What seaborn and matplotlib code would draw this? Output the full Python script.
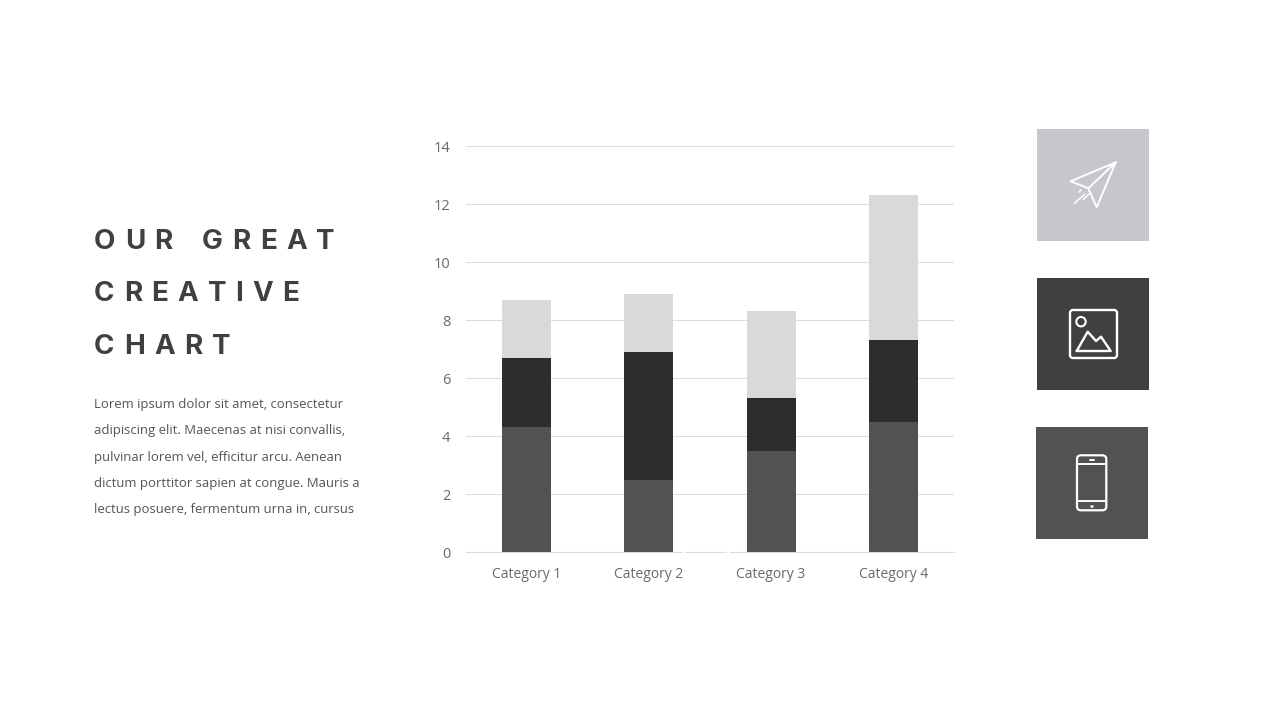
import matplotlib
matplotlib.use('Agg')
from matplotlib import pyplot as plt
from matplotlib.patches import Rectangle, FancyBboxPatch, Circle
import seaborn as sns
import pandas as pd

categories = ['Category 1', 'Category 2', 'Category 3', 'Category 4']
series_1 = [4.3, 2.5, 3.5, 4.5]
series_2 = [2.4, 4.4, 1.8, 2.8]
series_3 = [2.0, 2.0, 3.0, 5.0]
y_ticks = [0, 2, 4, 6, 8, 10, 12, 14]
title_lines = ['OUR GREAT', 'CREATIVE', 'CHART']
body_lines = [
    'Lorem ipsum dolor sit amet, consectetur',
    'adipiscing elit. Maecenas at nisi convallis,',
    'pulvinar lorem vel, efficitur arcu. Aenean',
    'dictum porttitor sapien at congue. Mauris a',
    'lectus posuere, fermentum urna in, cursus',
]

sns.set_theme(style='white')
plt.rcParams['font.family'] = ['Open Sans', 'DejaVu Sans']

fig = plt.figure(figsize=(12.8, 7.2), dpi=100, facecolor='white')

# chart area, placed to match the slide
ax = fig.add_axes([465.5 / 1280, (720 - 552) / 720, 489 / 1280, 406 / 720])
df = pd.DataFrame({'cat': categories, 's1': series_1, 's2': series_2, 's3': series_3})
bottom_2 = df.s1
bottom_3 = df.s1 + df.s2
bar_style = dict(width=0.4, saturation=1, ax=ax, zorder=3, linewidth=0, edgecolor='none')
sns.barplot(data=df, x='cat', y='s1', color='#525252', **bar_style)
sns.barplot(data=df, x='cat', y='s2', color='#2d2d2d', bottom=bottom_2, **bar_style)
sns.barplot(data=df, x='cat', y='s3', color='#d9d9d9', bottom=bottom_3, **bar_style)
ax.set_xlim(-0.5, 3.5)
ax.set_ylim(0, 14)
ax.set_yticks(y_ticks)
ax.set_xlabel('')
ax.set_ylabel('')
ax.set_facecolor('none')
ax.grid(axis='y', color='#dcdcdc', linewidth=0.75, zorder=0)
ax.set_axisbelow(True)
sns.despine(ax=ax, left=True, top=True, right=True)
ax.spines['bottom'].set_color('#dcdcdc')
ax.spines['bottom'].set_linewidth(0.75)
ax.tick_params(axis='both', length=0, labelsize=10, labelcolor='#6a6a6a')
ax.tick_params(axis='y', pad=11)
ax.tick_params(axis='x', pad=11)
ax.set_yticklabels([str(v) for v in y_ticks], fontsize=10.5)

# overlay in pixel coordinates for the text and icons
ov = fig.add_axes([0, 0, 1, 1], zorder=5)
ov.set_xlim(0, 1280)
ov.set_ylim(720, 0)
ov.axis('off')

# small breaks in the baseline
ov.add_patch(Rectangle((683, 550), 3, 4, color='white', lw=0))
ov.add_patch(Rectangle((727, 550), 3, 4, color='white', lw=0))


def spaced_text(x, y, line, tracking=9.3, space=11):
    renderer = fig.canvas.get_renderer()
    for ch in line:
        if ch == ' ':
            x += space + tracking
            continue
        t = ov.text(x, y, ch, family='Inter', fontsize=20, fontweight='bold',
                    color='#404040', ha='left', va='baseline')
        x += t.get_window_extent(renderer).width + tracking


for line, base in zip(title_lines, [249, 301, 354]):
    spaced_text(94, base, line)

for i, line in enumerate(body_lines):
    ov.text(94.5, 404.7 + i * 26.2, line, fontsize=9.45, color='#555555', ha='left', va='center')

# icon tiles
ov.add_patch(Rectangle((1037, 129), 112, 112, color='#c6c7ca', lw=0))
ov.add_patch(Rectangle((1037, 278), 112, 112, color='#404040', lw=0))
ov.add_patch(Rectangle((1036, 427), 112, 112, color='#525252', lw=0))


def stroke(xs, ys, lw=1.6):
    ov.plot(xs, ys, color='white', lw=lw, solid_capstyle='round', solid_joinstyle='round')


# paper plane
stroke([1088.3, 1070.7, 1115.7, 1096.7, 1088.3, 1115.7],
       [188.3, 181.3, 162.3, 207.3, 188.3, 162.3], lw=1.4)
stroke([1074.3, 1085], [203.3, 194], lw=1.1)
stroke([1079, 1081], [192, 190], lw=1.1)
stroke([1083.3, 1089], [199.3, 194], lw=1.1)

# picture
ov.add_patch(FancyBboxPatch((1072, 312), 43, 44, boxstyle='round,pad=2,rounding_size=3',
                            fc='none', ec='white', lw=1.7))
ov.add_patch(Circle((1081, 321.7), 4.7, fc='none', ec='white', lw=1.5))
stroke([1076.7, 1087.7, 1096, 1101, 1110.7, 1076.7], [351, 331.7, 341, 336.7, 351, 351], lw=1.7)

# phone
ov.add_patch(FancyBboxPatch((1079, 457.3), 25.3, 51, boxstyle='round,pad=2,rounding_size=4',
                            fc='none', ec='white', lw=1.6))
stroke([1077, 1106.3], [464.3, 464.3], lw=1.4)
stroke([1077, 1106.3], [501, 501], lw=1.4)
stroke([1089.5, 1093.5], [460, 460], lw=1.4)
stroke([1091.3, 1091.5], [505.7, 505.7], lw=1.8)

fig.savefig('out.png', dpi=100, facecolor='white')
